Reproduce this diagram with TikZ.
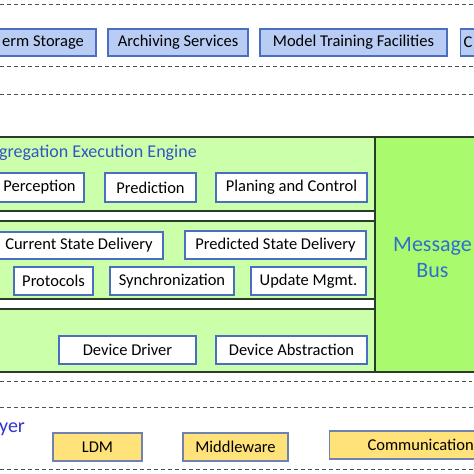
\documentclass[tikz,border=0pt]{standalone}
\usepackage{fontspec}
\setmainfont{Carlito}
\definecolor{topfill}{HTML}{B8CCF4}
\definecolor{topline}{HTML}{4A6FC0}
\definecolor{lgreen}{HTML}{CCFFAA}
\definecolor{bgreen}{HTML}{AAFA6E}
\definecolor{dline}{HTML}{2B3B2B}
\definecolor{wline}{HTML}{4A6FC0}
\definecolor{yfill}{HTML}{FFE27A}
\definecolor{yline}{HTML}{7080B0}
\definecolor{headblue}{HTML}{3353C8}
\definecolor{busblue}{HTML}{2E6ED0}
\definecolor{layblue}{HTML}{3434D2}
\definecolor{dashgray}{HTML}{505050}
\tikzset{
  lbl/.style={font=\fontsize{16.5}{18}\selectfont, inner sep=0pt},
  topbox/.style={lbl, draw=topline, fill=topfill, line width=1.1pt},
  whitebox/.style={lbl, draw=wline, fill=white, line width=1.1pt},
  ybox/.style={lbl, draw=yline, fill=yfill, line width=1.1pt},
  section/.style={draw=dline, fill=lgreen, line width=1.4pt},
  busarea/.style={draw=dline, fill=bgreen, line width=1.4pt},
  sep/.style={draw=dashgray, line width=0.9pt, dash pattern=on 4pt off 3pt},
  heading/.style={inner sep=0pt, text=headblue, font=\fontsize{18}{20}\selectfont},
}
\begin{document}
\begin{tikzpicture}[x=1pt,y=-1pt]
\useasboundingbox (0,0) rectangle (474,474);
\clip (0,0) rectangle (474,474);
\fill[white] (0,0) rectangle (474,474);
% dashed separators
\coordinate (d1a) at (0,4);   \coordinate (d1b) at (474,4);
\coordinate (d2a) at (0,66);  \coordinate (d2b) at (474,66);
\coordinate (d3a) at (0,94);  \coordinate (d3b) at (474,94);
\coordinate (d4a) at (0,381); \coordinate (d4b) at (472,381);
\coordinate (d5a) at (0,407); \coordinate (d5b) at (474,407);
\coordinate (d6a) at (0,469); \coordinate (d6b) at (474,469);
\draw[sep] (d1a) -- (d1b);
\draw[sep] (d2a) -- (d2b);
\draw[sep] (d3a) -- (d3b);
\draw[sep] (d4a) -- (d4b);
\draw[sep] (d5a) -- (d5b);
\draw[sep] (d6a) -- (d6b);
% top row
\node[topbox, minimum width=106pt, minimum height=27pt] (lts) at (43,42.5) {erm Storage};
\node[topbox, minimum width=140pt, minimum height=27pt] (arch) at (178,42.5) {Archiving Services};
\node[topbox, minimum width=187pt, minimum height=27pt] (mtf) at (353.5,42.5) {Model Training Facilities};
\node[topbox, minimum width=40pt, minimum height=27pt, anchor=west, text width=40pt, align=left, inner xsep=0pt] (cbox) at (460,42.5) {\hspace{3pt}C};
% green block
\draw[busarea] (375,137) rectangle (490,372);
\node[inner sep=0pt, align=center, text=busblue, font=\fontsize{22}{26}\selectfont] (bus) at (432.5,258) {Message\\Bus};
\draw[section] (-5,137) rectangle (375,211);
\draw[section] (-5,221) rectangle (375,299);
\draw[section] (-5,309) rectangle (375,372);
\node[heading, anchor=west] (aee) at (-1,153) {gregation Execution Engine};
% section 1
\node[whitebox, minimum width=89pt, minimum height=29pt] (perc) at (39.5,187.5) {Perception};
\node[whitebox, minimum width=91pt, minimum height=29pt] (pred) at (150.5,187.5) {Prediction};
\node[whitebox, minimum width=151pt, minimum height=29pt] (plan) at (291.5,187.5) {Planing and Control};
% section 2
\node[whitebox, minimum width=168pt, minimum height=27pt] (csd) at (79,245.5) {Current State Delivery};
\node[whitebox, minimum width=181pt, minimum height=28pt] (psd) at (275.5,245) {Predicted State Delivery};
\node[whitebox, minimum width=79pt, minimum height=28pt] (prot) at (53.5,281) {Protocols};
\node[whitebox, minimum width=124pt, minimum height=28pt] (sync) at (172,281) {Synchronization};
\node[whitebox, minimum width=115pt, minimum height=28pt] (upd) at (308.5,281) {Update Mgmt.};
% section 3
\node[whitebox, minimum width=137pt, minimum height=28pt] (ddrv) at (127.5,350) {Device Driver};
\node[whitebox, minimum width=151pt, minimum height=28pt] (dabs) at (291.5,350) {Device Abstraction};
% bottom layer
\node[inner sep=0pt, anchor=west, text=layblue, font=\fontsize{20}{22}\selectfont] (layer) at (-1,429) {yer};
\node[ybox, minimum width=89pt, minimum height=28pt] (ldm) at (97.5,447) {LDM};
\node[ybox, minimum width=105pt, minimum height=28pt] (mid) at (235.5,447) {Middleware};
\node[ybox, minimum width=160pt, minimum height=28pt, anchor=west, text width=160pt, align=left, inner xsep=0pt] (comm) at (329,445) {\hspace{38pt}Communication};
\end{tikzpicture}
\end{document}
